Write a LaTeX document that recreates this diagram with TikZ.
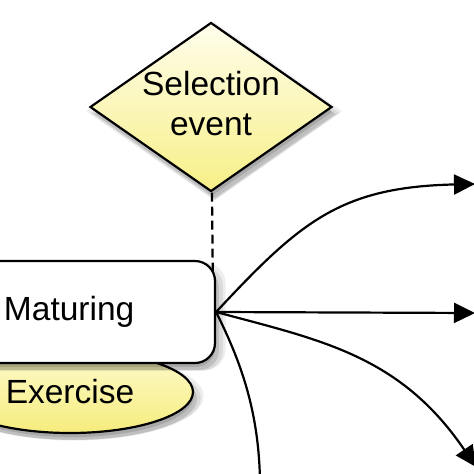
\documentclass[tikz,border=0pt]{standalone}
\usepackage{fontspec}
\setmainfont{Liberation Sans}
\usetikzlibrary{shapes.geometric,arrows.meta,shadows}
\definecolor{diatop}{RGB}{255,254,236}
\definecolor{diabot}{RGB}{247,239,135}
\definecolor{elltop}{RGB}{254,251,205}
\definecolor{ellbot}{RGB}{246,236,125}
\tikzset{
  bigfont/.style={font=\fontsize{33.5}{40}\selectfont},
  softshadow/.style={
    drop shadow={opacity=0.07,shadow xshift=3pt,shadow yshift=-4pt,shadow scale=1.06,fill=black},
    drop shadow={opacity=0.08,shadow xshift=4pt,shadow yshift=-6pt,shadow scale=1.03,fill=black},
    drop shadow={opacity=0.12,shadow xshift=4pt,shadow yshift=-7pt,fill=black},
    drop shadow={opacity=0.12,shadow xshift=3pt,shadow yshift=-5pt,shadow scale=0.98,fill=black}},
  decision/.style={shape=diamond,draw=black,line width=2.2pt,inner sep=0pt,
    minimum width=242pt,minimum height=169pt,aspect=1.43,
    top color=diatop,bottom color=diabot,align=center,bigfont,softshadow},
  statebox/.style={draw=black,line width=2.2pt,rounded corners=20pt,fill=white,
    minimum width=245pt,minimum height=102pt,text width=177pt,align=left,
    inner sep=0pt,bigfont,softshadow},
  eventell/.style={shape=ellipse,draw=black,line width=2.2pt,inner sep=0pt,
    minimum width=246pt,minimum height=82pt,top color=elltop,bottom color=ellbot,
    bigfont,softshadow},
  flow/.style={line width=2.2pt,-{Triangle[length=21pt,width=20pt]}},
  link/.style={line width=2.2pt,dash pattern=on 9pt off 5pt}
}
\begin{document}
\begin{tikzpicture}[x=1pt,y=-1pt]
\useasboundingbox (0,0) rectangle (474,474);
\clip (0,0) rectangle (474,474);
\node[decision] (sel) at (211,107) {Selection\\event\vphantom{g}};
\coordinate (dashend) at (213,300);
\draw[link] ([xshift=1pt]sel.south) -- (dashend);
\node[eventell] (ex) at (70,392) {Exercise};
\node[statebox] (mat) at (92.5,312) {Maturing};
\coordinate (t1) at (475,184);
\coordinate (t2) at (475,313);
\coordinate (t3) at (476,467);
\coordinate (t4) at (260,482);
\draw[flow] (mat.east) .. controls (300,222) and (340,187) .. (t1);
\draw[flow] (mat.east) -- (t2);
\draw[flow] (mat.east) .. controls (320,340) and (400,355) .. (t3);
\draw[line width=2.2pt] (mat.east) .. controls (240,360) and (259,410) .. (t4);
\end{tikzpicture}
\end{document}
